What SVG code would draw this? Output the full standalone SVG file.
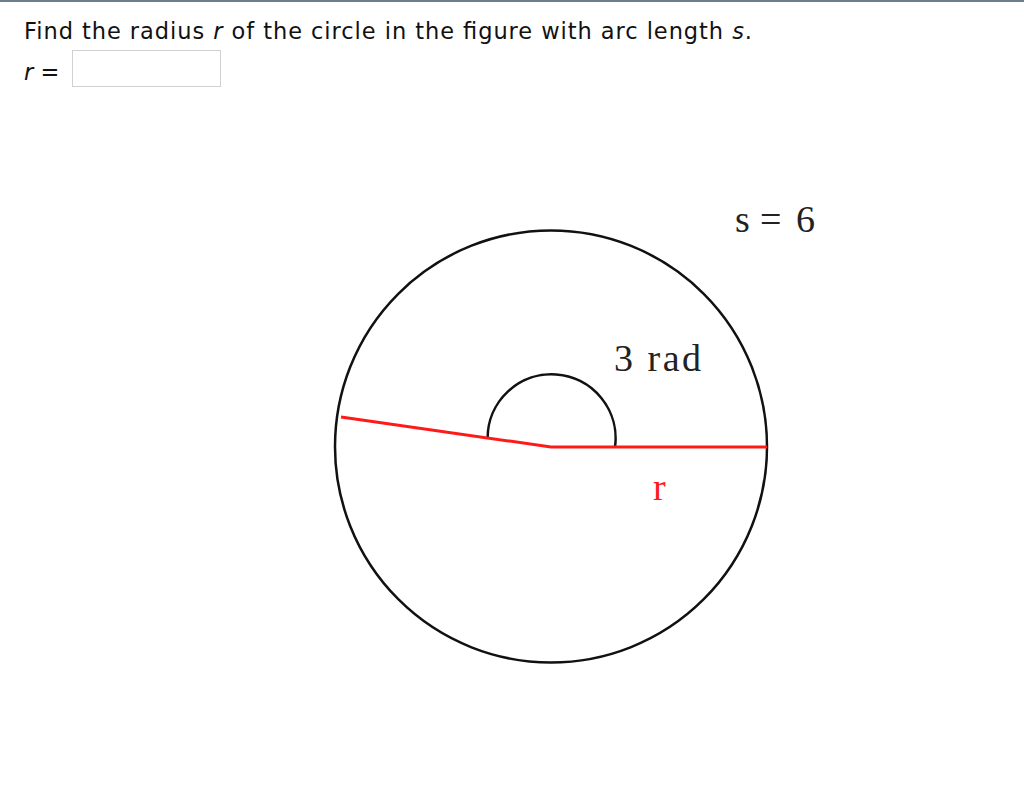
<svg xmlns="http://www.w3.org/2000/svg" width="1024" height="791" viewBox="0 0 1024 791">
<style>
.q{font-family:"DejaVu Sans",Verdana,sans-serif;font-size:22.5px;fill:#111}
.m{font-family:"Liberation Serif","Times New Roman",serif;font-size:38px;fill:#222}
.red{fill:#ff1a1a}
</style>
<rect width="1024" height="791" fill="#fff"/>
<rect x="0" y="0" width="1024" height="2" fill="#6e7d8c"/>
<g id="question">
<text class="q" x="24" y="39" textLength="728" lengthAdjust="spacing">Find the radius <tspan font-style="italic">r</tspan> of the circle in the figure with arc length <tspan font-style="italic">s</tspan>.</text>
<text class="q" x="24" y="80"><tspan font-style="italic">r</tspan> =</text>
<rect x="72.5" y="50.5" width="148" height="36" fill="#fff" stroke="#d0d0d0" stroke-width="1"/>
</g>
<g id="circle">
<circle cx="551" cy="446.5" r="216" fill="none" stroke="#111" stroke-width="2.5"/>
</g>
<g id="angle-arc">
<path d="M487.6,438 A64,64 0 1 1 615,447" fill="none" stroke="#111" stroke-width="2.5"/>
</g>
<g id="connectors">
<polyline points="341,417 551,447 767,447" fill="none" stroke="#ff1a1a" stroke-width="3"/>
</g>
<g id="labels">
<text class="m" y="232"><tspan x="735">s</tspan><tspan x="760">=</tspan><tspan x="796">6</tspan></text>
<text class="m" x="614" y="371" textLength="87" lengthAdjust="spacing">3 rad</text>
<text class="m red" x="653" y="500" font-size="40">r</text>
</g>
</svg>
